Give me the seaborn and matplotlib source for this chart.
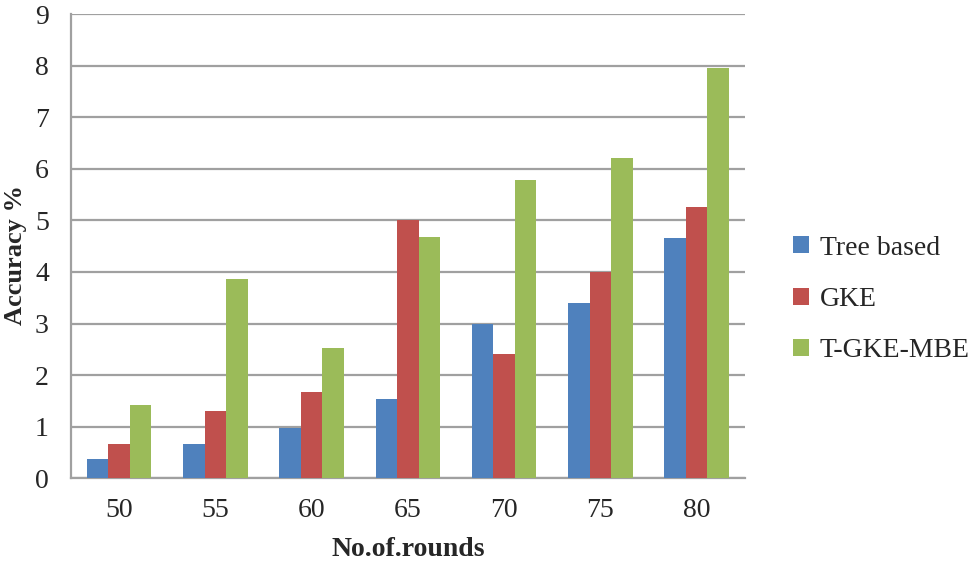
import pandas as pd
import matplotlib.pyplot as plt
import seaborn as sns

# values
rounds = ['50', '55', '60', '65', '70', '75', '80']
tree_based = [0.38, 0.66, 0.97, 1.53, 3.0, 3.4, 4.65]
gke = [0.66, 1.31, 1.67, 5.0, 2.4, 4.0, 5.25]
t_gke_mbe = [1.43, 3.87, 2.52, 4.68, 5.78, 6.2, 7.96]

methods = ['Tree based', 'GKE', 'T-GKE-MBE']
colors = ['#4F81BD', '#C0504D', '#9BBB59']

df = pd.DataFrame({'rounds': rounds * 3,
                   'accuracy': tree_based + gke + t_gke_mbe,
                   'method': [m for m in methods for _ in rounds]})

sns.set_style('white')
plt.rcParams['font.family'] = ['Liberation Serif', 'DejaVu Serif']

fig = plt.figure(figsize=(9.75, 5.62), dpi=100)
ax = fig.add_axes([0.0728, 0.149, 0.691, 0.826])

sns.barplot(data=df, x='rounds', y='accuracy', hue='method', palette=colors,
            width=0.67, saturation=1, linewidth=0, ax=ax, zorder=3)

ax.set_ylim(0, 9)
ax.set_yticks(range(10))
ax.yaxis.grid(True, color='#A0A0A0', linewidth=1.6, zorder=0)
ax.set_axisbelow(True)
for s in ['top', 'right']:
    ax.spines[s].set_visible(False)
for s in ['left', 'bottom']:
    ax.spines[s].set_color('#A0A0A0')
    ax.spines[s].set_linewidth(1.6)
ax.tick_params(axis='y', length=9, width=1.6, color='#A0A0A0', labelsize=20, pad=7)
ax.tick_params(axis='x', length=0, labelsize=20, pad=14)

ax.set_xlabel('No.of.rounds', fontsize=20, fontweight='bold', labelpad=10)
ax.set_ylabel('Accuracy %', fontsize=19, fontweight='bold')
ax.yaxis.set_label_coords(-0.066, 0.48)

ax.legend(title=None, frameon=False, fontsize=20, loc='center left',
          bbox_to_anchor=(1.035, 0.385), handlelength=0.55, handleheight=0.55,
          handletextpad=0.4, labelspacing=0.95)

fig.savefig('out.png', dpi=100)
